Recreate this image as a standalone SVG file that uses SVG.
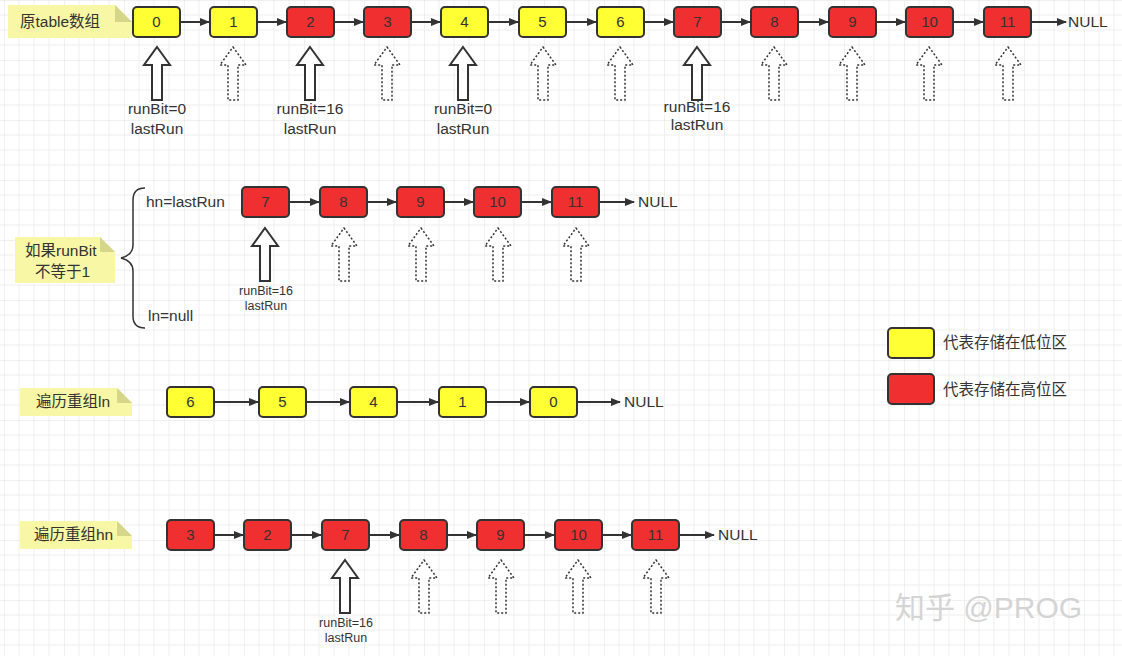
<svg xmlns="http://www.w3.org/2000/svg" xmlns:xlink="http://www.w3.org/1999/xlink" width="1122" height="656" viewBox="0 0 1122 656">
<style>
text{font-family:"Liberation Sans","Noto Sans CJK SC",sans-serif;fill:#333}
.y{fill:#ffff33;stroke:#333;stroke-width:2}
.r{fill:#f03030;stroke:#333;stroke-width:2}
.n{font-size:15px;text-anchor:middle}
.lbl{font-size:15.5px}
.sm{font-size:12.5px;text-anchor:middle}
.lk line{stroke:#333;stroke-width:2;marker-end:url(#ah)}
.note{fill:#f7f7a6}
.fold{fill:#d6d68a}
</style>
<defs>
<pattern id="g" width="60" height="60" patternUnits="userSpaceOnUse" x="4" y="0">
<path d="M15 0V60M30 0V60M45 0V60M0 15H60M0 30H60M0 45H60" stroke="#efefef" stroke-width="1"/>
<path d="M0 0V60M0 0H60" stroke="#e2e2e2" stroke-width="1"/>
</pattern>
<marker id="ah" markerWidth="10" markerHeight="10" refX="9" refY="5" orient="auto" markerUnits="userSpaceOnUse"><path d="M0 1L10 5L0 9Z" fill="#333"/></marker>
<path id="sa" d="M0 0L13 18H5V53H-5V18H-13Z" fill="#fff" stroke="#333" stroke-width="2"/>
<path id="da" d="M0 0L13 18H5V53H-5V18H-13Z" fill="#fff" stroke="#333" stroke-width="1.5" stroke-dasharray="2 2"/>
</defs>
<rect width="1122" height="656" fill="#fff"/>
<rect width="1122" height="656" fill="url(#g)"/>

<g id="connectors" class="lk">
<line x1="181" y1="22" x2="209" y2="22"/><line x1="258" y1="22" x2="286" y2="22"/><line x1="335" y1="22" x2="363" y2="22"/><line x1="412" y1="22" x2="440" y2="22"/><line x1="489" y1="22" x2="518" y2="22"/><line x1="567" y1="22" x2="596" y2="22"/><line x1="645" y1="22" x2="673" y2="22"/><line x1="722" y1="22" x2="750" y2="22"/><line x1="799" y1="22" x2="828" y2="22"/><line x1="877" y1="22" x2="905" y2="22"/><line x1="954" y1="22" x2="983" y2="22"/><line x1="1032" y1="22" x2="1066" y2="22"/>
<line x1="290" y1="202" x2="319" y2="202"/><line x1="368" y1="202" x2="396" y2="202"/><line x1="445" y1="202" x2="473" y2="202"/><line x1="522" y1="202" x2="551" y2="202"/><line x1="600" y1="202" x2="634" y2="202"/>
<line x1="215" y1="402" x2="258" y2="402"/><line x1="307" y1="402" x2="349" y2="402"/><line x1="398" y1="402" x2="438" y2="402"/><line x1="487" y1="402" x2="529" y2="402"/><line x1="578" y1="402" x2="620" y2="402"/>
<line x1="215" y1="535" x2="243" y2="535"/><line x1="292" y1="535" x2="321" y2="535"/><line x1="370" y1="535" x2="399" y2="535"/><line x1="448" y1="535" x2="476" y2="535"/><line x1="525" y1="535" x2="554" y2="535"/><line x1="603" y1="535" x2="631" y2="535"/><line x1="680" y1="535" x2="714" y2="535"/>
</g>

<g id="label-table"><path class="note" d="M8 5H115L132 22V38H8Z"/><path class="fold" d="M115 5L132 22H115Z"/><text class="lbl" x="20" y="27">原table数组</text></g>

<g id="row1">
<rect class="y" x="133" y="7" width="47" height="30" rx="4"/><text class="n" x="156.5" y="27">0</text>
<rect class="y" x="210" y="7" width="47" height="30" rx="4"/><text class="n" x="233.5" y="27">1</text>
<rect class="r" x="287" y="7" width="47" height="30" rx="4"/><text class="n" x="310.5" y="27">2</text>
<rect class="r" x="364" y="7" width="47" height="30" rx="4"/><text class="n" x="387.5" y="27">3</text>
<rect class="y" x="441" y="7" width="47" height="30" rx="4"/><text class="n" x="464.5" y="27">4</text>
<rect class="y" x="519" y="7" width="47" height="30" rx="4"/><text class="n" x="542.5" y="27">5</text>
<rect class="y" x="597" y="7" width="47" height="30" rx="4"/><text class="n" x="620.5" y="27">6</text>
<rect class="r" x="674" y="7" width="47" height="30" rx="4"/><text class="n" x="697.5" y="27">7</text>
<rect class="r" x="751" y="7" width="47" height="30" rx="4"/><text class="n" x="774.5" y="27">8</text>
<rect class="r" x="829" y="7" width="47" height="30" rx="4"/><text class="n" x="852.5" y="27">9</text>
<rect class="r" x="906" y="7" width="47" height="30" rx="4"/><text class="n" x="929.5" y="27">10</text>
<rect class="r" x="984" y="7" width="47" height="30" rx="4"/><text class="n" x="1007.5" y="27">11</text>
<text class="lbl" x="1068" y="27">NULL</text>
<use href="#sa" x="157" y="47"/><use href="#da" x="233" y="47"/><use href="#sa" x="310" y="47"/><use href="#da" x="387" y="47"/>
<use href="#sa" x="463" y="47"/><use href="#da" x="543" y="47"/><use href="#da" x="620" y="47"/><use href="#sa" x="697" y="47"/>
<use href="#da" x="774" y="47"/><use href="#da" x="852" y="47"/><use href="#da" x="929" y="47"/><use href="#da" x="1008" y="47"/>
<text class="lbl" x="157" y="114" text-anchor="middle">runBit=0</text><text class="lbl" x="157" y="134" text-anchor="middle">lastRun</text>
<text class="lbl" x="310" y="114" text-anchor="middle">runBit=16</text><text class="lbl" x="310" y="134" text-anchor="middle">lastRun</text>
<text class="lbl" x="463" y="114" text-anchor="middle">runBit=0</text><text class="lbl" x="463" y="134" text-anchor="middle">lastRun</text>
<text class="lbl" x="697" y="112" text-anchor="middle">runBit=16</text><text class="lbl" x="697" y="130" text-anchor="middle">lastRun</text>
</g>

<g id="note-runbit"><path class="note" d="M15 237H100L115 252V283H15Z"/><path class="fold" d="M100 237L115 252H100Z"/><text class="lbl" x="25" y="256">如果runBit</text><text class="lbl" x="35" y="277">不等于1</text></g>
<g id="brace"><path d="M145 188Q133 188 133 200V245Q133 255 121 258Q133 261 133 271V316Q133 328 145 328" fill="none" stroke="#333" stroke-width="1.5"/></g>

<g id="row2">
<text class="lbl" x="146" y="207">hn=lastRun</text>
<text class="lbl" x="148" y="321">ln=null</text>
<rect class="r" x="242" y="187" width="47" height="30" rx="4"/><text class="n" x="265.5" y="207">7</text>
<rect class="r" x="320" y="187" width="47" height="30" rx="4"/><text class="n" x="343.5" y="207">8</text>
<rect class="r" x="397" y="187" width="47" height="30" rx="4"/><text class="n" x="420.5" y="207">9</text>
<rect class="r" x="474" y="187" width="47" height="30" rx="4"/><text class="n" x="497.5" y="207">10</text>
<rect class="r" x="552" y="187" width="47" height="30" rx="4"/><text class="n" x="575.5" y="207">11</text>
<text class="lbl" x="638" y="207">NULL</text>
<use href="#sa" x="265" y="228"/><use href="#da" x="344" y="228"/><use href="#da" x="421" y="228"/><use href="#da" x="498" y="228"/><use href="#da" x="576" y="228"/>
<text class="sm" x="266" y="295">runBit=16</text><text class="sm" x="266" y="310">lastRun</text>
</g>

<g id="legend">
<rect class="y" x="888" y="328" width="46" height="30" rx="4"/><text class="lbl" x="943" y="348">代表存储在低位区</text>
<rect class="r" x="888" y="374" width="46" height="30" rx="4"/><text class="lbl" x="943" y="395">代表存储在高位区</text>
</g>

<g id="label-ln"><path class="note" d="M20 388H117L132 403V416H20Z"/><path class="fold" d="M117 388L132 403H117Z"/><text class="lbl" x="36" y="407">遍历重组ln</text></g>
<g id="row3">
<rect class="y" x="167" y="387" width="47" height="30" rx="4"/><text class="n" x="190.5" y="407">6</text>
<rect class="y" x="259" y="387" width="47" height="30" rx="4"/><text class="n" x="282.5" y="407">5</text>
<rect class="y" x="350" y="387" width="47" height="30" rx="4"/><text class="n" x="373.5" y="407">4</text>
<rect class="y" x="439" y="387" width="47" height="30" rx="4"/><text class="n" x="462.5" y="407">1</text>
<rect class="y" x="530" y="387" width="47" height="30" rx="4"/><text class="n" x="553.5" y="407">0</text>
<text class="lbl" x="624" y="407">NULL</text>
</g>

<g id="label-hn"><path class="note" d="M20 521H117L132 536V549H20Z"/><path class="fold" d="M117 521L132 536H117Z"/><text class="lbl" x="34" y="540">遍历重组hn</text></g>
<g id="row4">
<rect class="r" x="167" y="520" width="47" height="30" rx="4"/><text class="n" x="190.5" y="540">3</text>
<rect class="r" x="244" y="520" width="47" height="30" rx="4"/><text class="n" x="267.5" y="540">2</text>
<rect class="r" x="322" y="520" width="47" height="30" rx="4"/><text class="n" x="345.5" y="540">7</text>
<rect class="r" x="400" y="520" width="47" height="30" rx="4"/><text class="n" x="423.5" y="540">8</text>
<rect class="r" x="477" y="520" width="47" height="30" rx="4"/><text class="n" x="500.5" y="540">9</text>
<rect class="r" x="555" y="520" width="47" height="30" rx="4"/><text class="n" x="578.5" y="540">10</text>
<rect class="r" x="632" y="520" width="47" height="30" rx="4"/><text class="n" x="655.5" y="540">11</text>
<text class="lbl" x="718" y="540">NULL</text>
<use href="#sa" x="345" y="560"/><use href="#da" x="424" y="560"/><use href="#da" x="501" y="560"/><use href="#da" x="578" y="560"/><use href="#da" x="656" y="560"/>
<text class="sm" x="346" y="627">runBit=16</text><text class="sm" x="346" y="642">lastRun</text>
</g>
<text x="895" y="618" style="font-size:30px;fill:#d4d4d4">知乎 @PROG</text>
</svg>
